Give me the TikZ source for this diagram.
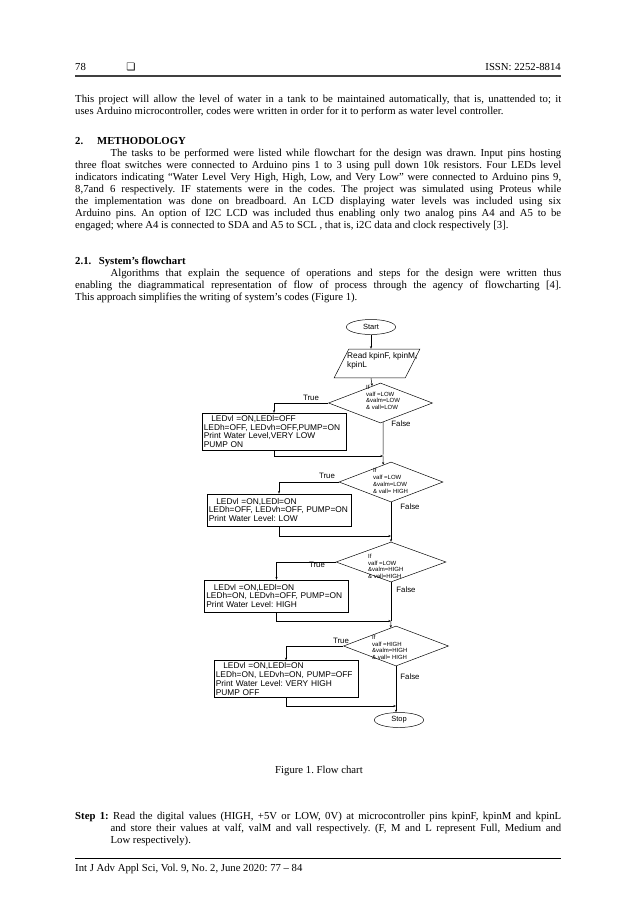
\documentclass[tikz,border=0pt]{standalone}
\usepackage{fontspec}
\setmainfont{Liberation Serif}
\newfontfamily\chartfont{Liberation Sans}
\newfontfamily\dingfont{DejaVu Sans}
\usetikzlibrary{shapes.geometric, arrows.meta, calc, positioning}
\frenchspacing

\tikzset{
  pagetext/.style={inner sep=0pt, font=\fontsize{10}{11.2}\selectfont},
  body/.style={anchor=base west, inner sep=0pt, text width=453.5pt, align=justify, font=\fontsize{10}{11.2}\selectfont},
  head/.style={anchor=base west, inner sep=0pt, font=\fontsize{10}{11.2}\selectfont\bfseries},
  term/.style={ellipse, draw, line width=0.45pt, minimum width=46pt, minimum height=14pt, inner sep=0pt, font=\chartfont\fontsize{7}{8}\selectfont},
  io/.style={trapezium, trapezium left angle=63, trapezium right angle=117, draw, line width=0.45pt, inner xsep=26.3pt, inner ysep=13.5pt},
  dec/.style={diamond, draw, line width=0.45pt, inner sep=0pt, minimum width=97pt, minimum height=37.3pt},
  ctext/.style={anchor=north west, inner sep=0pt, align=left, font=\chartfont\fontsize{7.7}{9}\selectfont},
  dtext/.style={anchor=north west, inner sep=0pt, align=left, font=\chartfont\fontsize{5.6}{6.5}\selectfont},
  act/.style={rectangle, draw, line width=0.45pt, text width=131pt, inner xsep=1.5pt, inner ysep=1pt, align=left, font=\chartfont\fontsize{7.8}{8.1}\selectfont},
  lbl/.style={inner sep=0pt, font=\chartfont\fontsize{7.3}{8}\selectfont},
  flowline/.style={draw, line width=0.45pt},
  flowarrow/.style={-{Stealth[length=2.5pt,width=2pt]}}
}

\begin{document}
\begin{tikzpicture}[x=0.9331pt, y=-0.9331pt]
\fill[white] (0,0) rectangle (638,902);
\useasboundingbox (0,0) rectangle (638,902);

% running head
\node[pagetext, anchor=base west] (pageno) at (75,70) {78};
\node[anchor=base, inner sep=0pt, font=\dingfont\fontsize{9.5}{9.5}\selectfont] (sqmark) at (131,70) {❏};
\node[pagetext, anchor=base east] (issn) at (561,70) {ISSN: 2252-8814};
\draw[line width=1.4pt, black!75] (75,76) -- (561,76);

% text above the figure
\node[body] (intro) at (75,102) {This project will allow the level of water in a tank to be maintained automatically, that is, unattended to; it\linebreak uses Arduino microcontroller, codes were written in order for it to perform as water level controller.};
\node[head] (sec2) at (75,144) {\makebox[20.5pt][l]{2.}METHODOLOGY};
\node[body] (method) at (75,156) {\hspace*{33pt}The tasks to be performed were listed while flowchart for the design was drawn. Input pins hosting\linebreak three float switches were connected to Arduino pins 1 to 3 using pull down 10k resistors. Four LEDs level\linebreak indicators indicating “Water Level Very High, High, Low, and Very Low” were connected to Arduino pins 9,\linebreak 8,7and 6 respectively. IF statements were in the codes. The project was simulated using Proteus while\linebreak the implementation was done on breadboard. An LCD displaying water levels was included using six\linebreak Arduino pins. An option of I2C LCD was included thus enabling only two analog pins A4 and A5 to be\linebreak engaged; where A4 is connected to SDA and A5 to SCL , that is, i2C data and clock respectively [3].};
\node[head] (sec21) at (75,264) {\makebox[22pt][l]{2.1.}System’s flowchart};
\node[body] (algo) at (75,276) {\hspace*{33pt}Algorithms that explain the sequence of operations and steps for the design were written thus\linebreak enabling the diagrammatical representation of flow of process through the agency of flowcharting [4].\linebreak This approach simplifies the writing of system’s codes (Figure 1).};

% flowchart
\node[term] (start) at (371,327) {Start};
\node[io] (read) at (377,363.5) {};
\node[ctext] (readtxt) at (347,352) {Read kpinF, kpinM,\\kpinL};

\node[dec] (d1) at (380.5,403) {};
\node[dtext] (d1txt) at (366,384.5) {If\\valf =LOW\\\&valm=LOW\\\& vall=LOW};
\node[act, minimum height=34.5pt] (box1) at (274,431.5) {\hspace*{7pt}LEDvl =ON,LEDl=OFF\\LEDh=OFF, LEDvh=OFF,PUMP=ON\\Print Water Level,VERY LOW\\PUMP ON};
\node[lbl] (t1) at (311,398) {True};
\node[lbl] (f1) at (401,424) {False};
\coordinate (j1) at (383,456);

\node[dec] (d2) at (391,482) {};
\node[dtext] (d2txt) at (373,468) {If\\valf =LOW\\\&valm=LOW\\\& vall= HIGH};
\node[act, minimum height=30pt] (box2) at (279,510) {\hspace*{7pt}LEDvl =ON,LEDl=ON\\LEDh=OFF, LEDvh=OFF, PUMP=ON\\Print Water Level: LOW};
\node[lbl] (t2) at (327,476) {True};
\node[lbl] (f2) at (410,507) {False};
\coordinate (j2) at (391,536);

\node[dec, minimum width=102.6pt] (d3) at (391,562) {};
\node[dtext] (d3txt) at (368,553.5) {If\\valf =LOW\\\&valm=HIGH\\\& vall=HIGH};
\node[act, minimum height=30pt] (box3) at (276.5,596) {\hspace*{7pt}LEDvl =ON,LEDl=ON\\LEDh=ON, LEDvh=OFF, PUMP=ON\\Print Water Level: HIGH};
\node[lbl] (t3) at (317,565) {True};
\node[lbl] (f3) at (406,590) {False};
\coordinate (j3) at (391,621);

\node[dec, minimum width=98pt] (d4) at (396,646) {};
\node[dtext] (d4txt) at (372,634.5) {If\\valf =HIGH\\\&valm=HIGH\\\& vall= HIGH};
\node[act, minimum height=34.5pt] (box4) at (286,679) {\hspace*{7pt}LEDvl =ON,LEDl=ON\\LEDh=ON, LEDvh=ON, PUMP=OFF\\Print Water Level: VERY HIGH\\PUMP OFF};
\node[lbl] (t4) at (341,641) {True};
\node[lbl] (f4) at (410,677) {False};
\coordinate (j4) at (396,706);

\node[term] (stop) at (399,720) {Stop};

\draw[flowline, flowarrow] (start.south) -- (start.south |- read.north);
\draw[flowline, flowarrow] (read.south -| start.south) -- ($(d1.north)!0.16!(d1.west)$);

\draw[flowline, flowarrow] (d1.west) -| (box1.north);
\draw[flowline] ($(d1.south)!0.05!(d1.east)$) -- (j1);
\draw[flowline, flowarrow] (box1.south) |- (j1);
\draw[flowline, flowarrow] (j1) -- ($(d2.north)!0.15!(d2.west)$);

\draw[flowline, flowarrow] (d2.west) -| (box2.north);
\draw[flowline] (d2.south) -- (j2);
\draw[flowline, flowarrow] (box2.south) |- (j2);
\draw[flowline, flowarrow] (j2) -- (d3.north);

\draw[flowline, flowarrow] (d3.west) -| (box3.north);
\draw[flowline] (d3.south) -- (j3);
\draw[flowline, flowarrow] (box3.south) |- (j3);
\draw[flowline, flowarrow] (j3) -- ($(d4.north)!0.1!(d4.west)$);

\draw[flowline, flowarrow] (d4.west) -| (box4.north);
\draw[flowline] (d4.south) -- (j4);
\draw[flowline, flowarrow] (box4.south) |- (j4);
\draw[flowline, flowarrow] (j4) -- (j4 |- stop.north);

% text below the figure
\node[pagetext, anchor=base] (caption) at (319,773) {Figure 1. Flow chart};
\node[body, text width=420.5pt] (step1) at (110.4,819) {\hspace*{-33pt}\textbf{Step 1:} Read the digital values (HIGH, +5V or LOW, 0V) at microcontroller pins kpinF, kpinM and kpinL\linebreak and store their values at valf, valM and vall respectively. (F, M and L represent Full, Medium and\linebreak Low respectively).};
\draw[line width=0.8pt] (75,858) -- (561,858);
\node[pagetext, anchor=base west] (footer) at (75,871) {Int J Adv Appl Sci, Vol. 9, No. 2, June 2020: 77 – 84};
\end{tikzpicture}
\end{document}
